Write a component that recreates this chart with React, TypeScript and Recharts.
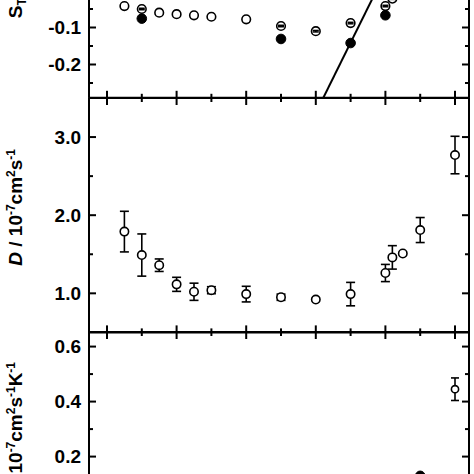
import { ComposedChart, Scatter, XAxis, YAxis, ErrorBar, ReferenceLine } from "recharts"

// shared x positions (tick labels are cropped off in the reference)
const xTicks = [0, 1, 2, 3, 4, 5, 6, 7, 8, 9, 10]
const xDomain = [-0.517, 10.402]

// S_T panel
const stX = [0.5, 1, 1.5, 2, 2.5, 3, 4, 5, 6, 7, 8, 8.2]
const stOpen = [-0.042, -0.05, -0.06, -0.064, -0.067, -0.071, -0.078, -0.096, -0.11, -0.088, -0.042, -0.022]
const stOpenErr = [0, 0.002, 0, 0, 0, 0, 0, 0.002, 0.002, 0.002, 0.002, 0.002]
const stFilledX = [1, 5, 7, 8]
const stFilled = [-0.076, -0.131, -0.142, -0.067]
const fitX = [6, 8]
const fitY = [-0.331, 0.049]
const stTicks = [-0.25, -0.2, -0.15, -0.1, -0.05]

// D panel
const dX = [0.5, 1, 1.5, 2, 2.5, 3, 4, 5, 6, 7, 8, 8.2, 8.5, 9, 10]
const dVal = [1.79, 1.49, 1.36, 1.115, 1.02, 1.04, 0.99, 0.95, 0.92, 0.99, 1.26, 1.46, 1.51, 1.81, 2.77]
const dErr = [0.26, 0.27, 0.08, 0.09, 0.11, 0.045, 0.1, 0.04, 0, 0.15, 0.11, 0.15, 0, 0.16, 0.24]
const dTicks = [1, 1.5, 2, 2.5, 3]

// D_T panel
const dtX = [10]
const dtVal = [0.445]
const dtErr = [0.041]
const dtFilledX = [9]
const dtFilled = [0.13]
const dtTicks = [0.1, 0.2, 0.3, 0.4, 0.5, 0.6]

const zip = (xs: number[], ys: number[], es?: number[]) =>
  xs.map((x, i) => ({ x, y: ys[i], err: es ? es[i] : 0 }))

const FONT = "'Liberation Sans', Arial, sans-serif"
const W = 474
// axes take 1px each, so the plot box sits 10px in from top/bottom and ends at x=469
const M = { top: 9, right: 4, bottom: 9, left: 0 }

const isTenth = (v: number) => Math.abs(v * 10 - Math.round(v * 10)) < 1e-6
const isInt = (v: number) => Math.abs(v - Math.round(v)) < 1e-6
const isFifthEven = (v: number) => isTenth(v) && Math.abs(Math.round(v * 10)) % 2 === 0

function XTick(props: any) {
  const { x, y, payload, dir } = props
  const len = payload.value % 2 === 0 ? 7 : 4
  return <line x1={x} x2={x} y1={y} y2={y + dir * len} stroke="#000" strokeWidth={2} />
}

function YTick(props: any) {
  const { x, y, payload, dir, major, label } = props
  const big = major(payload.value)
  return (
    <g>
      <line x1={x} x2={x + dir * (big ? 7 : 4)} y1={y} y2={y} stroke="#000" strokeWidth={2} />
      {label && big && (
        <text x={x - 8} y={y} dy="0.36em" textAnchor="end"
          style={{ fontFamily: FONT, fontSize: 19, fontWeight: 700, fill: "#000" }}>
          {payload.value.toFixed(1)}
        </text>
      )}
    </g>
  )
}

const axisLine = { stroke: "#000", strokeWidth: 2 }
const titleStyle = { fontFamily: FONT, fontSize: 19, fontWeight: 700, fill: "#000" }

function axes(domain: number[], ticks: number[], major: (v: number) => boolean, title: any) {
  return [
    <XAxis key="xb" xAxisId="b" dataKey="x" type="number" domain={xDomain} ticks={xTicks} interval={0}
      allowDataOverflow orientation="bottom" height={1} tickSize={0} tickMargin={0}
      stroke="#000" strokeWidth={2} axisLine={axisLine}
      tick={(p: any) => <XTick {...p} dir={-1} />} />,
    <XAxis key="xt" xAxisId="t" dataKey="x" type="number" domain={xDomain} ticks={xTicks} interval={0}
      allowDataOverflow orientation="top" height={1} tickSize={0} tickMargin={0}
      stroke="#000" strokeWidth={2} axisLine={axisLine}
      tick={(p: any) => <XTick {...p} dir={1} />} />,
    <YAxis key="yl" yAxisId="l" dataKey="y" type="number" domain={domain} ticks={ticks} interval={0}
      allowDataOverflow orientation="left" width={89} tickSize={0} tickMargin={0}
      stroke="#000" strokeWidth={2} axisLine={axisLine}
      tick={(p: any) => <YTick {...p} dir={1} major={major} label />} label={title} />,
    <YAxis key="yr" yAxisId="r" dataKey="y" type="number" domain={domain} ticks={ticks} interval={0}
      allowDataOverflow orientation="right" width={1} tickSize={0} tickMargin={0}
      stroke="#000" strokeWidth={2} axisLine={axisLine}
      tick={(p: any) => <YTick {...p} dir={-1} major={major} />} />,
    // vertical frame sides (same place as the y axis lines)
    <ReferenceLine key="fl" xAxisId="b" yAxisId="l" x={xDomain[0]} ifOverflow="visible"
      stroke="#000" strokeWidth={2} />,
    <ReferenceLine key="fr" xAxisId="b" yAxisId="l" x={xDomain[1]} ifOverflow="visible"
      stroke="#000" strokeWidth={2} />,
  ]
}

const openDot = (r: number, fill: string) => (p: any) =>
  <circle cx={p.cx} cy={p.cy} r={r} fill={fill} stroke="#000" strokeWidth={1.6} />
const solidDot = (p: any) => <circle cx={p.cx} cy={p.cy} r={4.8} fill="#000" stroke="#000" strokeWidth={1} />
const noDot = () => <g />

const stTitle = () => {
  const y = 56.2
  return (
    <text x={22} y={y} transform={`rotate(-90 22 ${y})`} textAnchor="start" style={titleStyle}>
      S<tspan dy={4} fontSize={12}>T</tspan>
      <tspan dy={-4}> / K</tspan>
      <tspan dy={-7} fontSize={11}>-1</tspan>
    </text>
  )
}

const dTitle = () => {
  const y = 119.4
  return (
    <text x={22} y={y} transform={`rotate(-90 22 ${y})`} textAnchor="middle" style={titleStyle}>
      <tspan fontStyle="italic">D</tspan>
      <tspan> / 10</tspan>
      <tspan dy={-7} fontSize={12}>-7</tspan>
      <tspan dy={7}>cm</tspan>
      <tspan dy={-7} fontSize={12}>2</tspan>
      <tspan dy={7}>s</tspan>
      <tspan dy={-7} fontSize={12}>-1</tspan>
    </text>
  )
}

const dtTitle = () => {
  const y = 40
  return (
    <text x={22} y={y} transform={`rotate(-90 22 ${y})`} textAnchor="end" style={titleStyle}>
      <tspan fontStyle="italic">D</tspan>
      <tspan dy={4} fontSize={12}>T</tspan>
      <tspan dy={-4}> / 10</tspan>
      <tspan dy={-7} fontSize={12}>-7</tspan>
      <tspan dy={7}>cm</tspan>
      <tspan dy={-7} fontSize={12}>2</tspan>
      <tspan dy={7}>s</tspan>
      <tspan dy={-7} fontSize={12}>-1</tspan>
      <tspan dy={7}>K</tspan>
      <tspan dy={-7} fontSize={12}>-1</tspan>
    </text>
  )
}

export default function App() {
  return (
    <div style={{ position: "absolute", left: 0, top: 0, width: W, height: W, overflow: "hidden", background: "#fff" }}>
      <div style={{ position: "absolute", left: 0, top: -38.2 }}>
        <ComposedChart width={W} height={145.8} margin={M}>
          {axes([-0.29, 0.05], stTicks, isTenth, stTitle)}
          <Scatter xAxisId="b" yAxisId="l" data={zip(fitX, fitY)} line={{ stroke: "#000", strokeWidth: 2 }}
            shape={noDot} isAnimationActive={false} />
          <Scatter xAxisId="b" yAxisId="l" data={zip(stX, stOpen, stOpenErr)} shape={openDot(4.3, "none")}
            isAnimationActive={false}>
            <ErrorBar dataKey="err" direction="y" width={3} stroke="#000" strokeWidth={1.5} />
          </Scatter>
          <Scatter xAxisId="b" yAxisId="l" data={zip(stFilledX, stFilled)} shape={solidDot} isAnimationActive={false} />
        </ComposedChart>
      </div>
      <div style={{ position: "absolute", left: 0, top: 87.6 }}>
        <ComposedChart width={W} height={254.4} margin={M}>
          {axes([0.5, 3.5], dTicks, isInt, dTitle)}
          <Scatter xAxisId="b" yAxisId="l" data={zip(dX, dVal, dErr)} shape={openDot(4.2, "#fff")}
            isAnimationActive={false}>
            <ErrorBar dataKey="err" direction="y" width={4.5} stroke="#000" strokeWidth={1.6} />
          </Scatter>
        </ComposedChart>
      </div>
      <div style={{ position: "absolute", left: 0, top: 322 }}>
        <ComposedChart width={W} height={199.6} margin={M}>
          {axes([0, 0.653], dtTicks, isFifthEven, dtTitle)}
          <Scatter xAxisId="b" yAxisId="l" data={zip(dtX, dtVal, dtErr)} shape={openDot(3.6, "#fff")}
            isAnimationActive={false}>
            <ErrorBar dataKey="err" direction="y" width={4} stroke="#000" strokeWidth={1.6} />
          </Scatter>
          <Scatter xAxisId="b" yAxisId="l" data={zip(dtFilledX, dtFilled)} shape={solidDot} isAnimationActive={false} />
        </ComposedChart>
      </div>
    </div>
  )
}
